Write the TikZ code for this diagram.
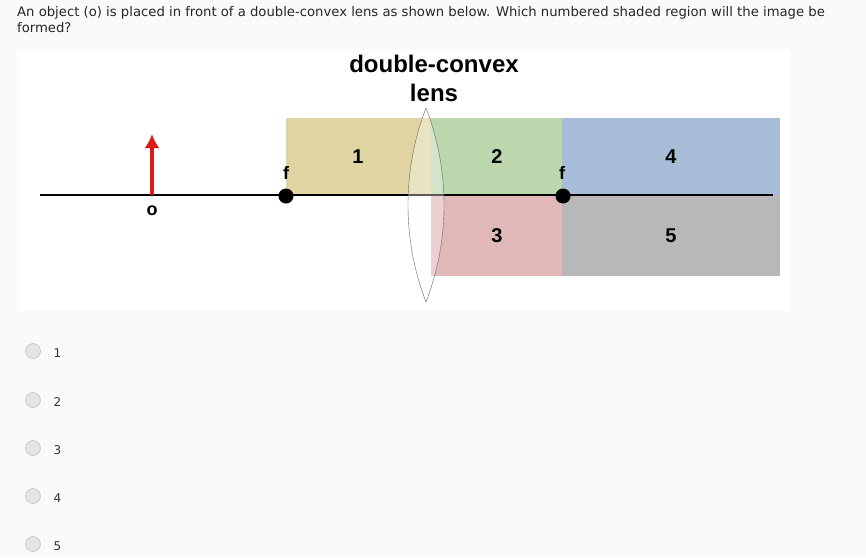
\documentclass[tikz,border=0pt]{standalone}
\usepackage{fontspec}
\usetikzlibrary{arrows.meta}
\setmainfont{Liberation Sans}
\newfontfamily\qfont{DejaVu Sans}
\begin{document}
\begin{tikzpicture}[x=1pt,y=-1pt,
  num/.style={font=\fontsize{20}{20}\selectfont\bfseries},
  radio/.style={circle,draw=black!30,fill=black!10,minimum size=15pt,inner sep=0pt},
  opt/.style={font=\qfont\fontsize{12}{12}\selectfont,text=black!80,anchor=west}]
\fill[black!2] (0,0) rectangle (866,557);
\useasboundingbox (0,0) rectangle (866,557);
\fill[white] (17,50) rectangle (790,311);
\node[anchor=west,font=\qfont\fontsize{13.2}{16}\selectfont,text=black!85,align=left,inner sep=0pt] (q) at (17,20) {An object (o) is placed in front of a double-convex lens as shown below. Which numbered shaded region will the image be\\formed?};
\definecolor{cy}{HTML}{DFD4A2}\definecolor{cg}{HTML}{BCD6AE}\definecolor{cb}{HTML}{A8BDD7}
\definecolor{cp}{HTML}{E0B8B8}\definecolor{cgr}{HTML}{B8B8B8}
\fill[cy] (286,118) rectangle (431,195);
\fill[cg] (431,118) rectangle (562,195);
\fill[cb] (562,118) rectangle (780,195);
\fill[cp] (431,195) rectangle (562,276);
\fill[cgr] (562,195) rectangle (780,276);
\node[num] (n1) at (358,157) {1};
\node[num] (n2) at (497,157) {2};
\node[num] (n4) at (671,157) {4};
\node[num] (n3) at (497,236) {3};
\node[num] (n5) at (671,236) {5};
\coordinate (a1) at (40,195); \coordinate (a2) at (773,195);
\draw[line width=1.6pt] (a1) -- (a2);
\node[circle,fill=black,minimum size=15pt,inner sep=0pt] (f1) at (286,196) {};
\node[circle,fill=black,minimum size=15pt,inner sep=0pt] (f2) at (563,196) {};
\node[font=\fontsize{18}{18}\selectfont\bfseries] (fl1) at (286,173) {f};
\node[font=\fontsize{18}{18}\selectfont\bfseries] (fl2) at (562,173) {f};
\coordinate (lt) at (426,108); \coordinate (lb) at (426,302);
\draw[black!60,fill=white,fill opacity=0.35] (lt) .. controls (402,170) and (402,240) .. (lb) .. controls (450,240) and (450,170) .. (lt);
\coordinate (ob) at (152,195); \coordinate (ot) at (152,134);
\draw[red!85!black!90,line width=3.5pt,-{Latex[length=14pt,width=15pt]}] (ob) -- (ot);
\node[font=\fontsize{18}{18}\selectfont\bfseries] (o) at (152,211) {o};
\node[font=\fontsize{24}{29}\selectfont\bfseries,align=center] (title) at (434,78) {double-convex\\lens};
\foreach \i/\y in {1/351,2/400,3/448,4/496,5/544}{
  \node[radio] (r\i) at (33,\y) {};
  \node[opt] (t\i) at (50,\y+2) {\i};
}
\end{tikzpicture}
\end{document}
